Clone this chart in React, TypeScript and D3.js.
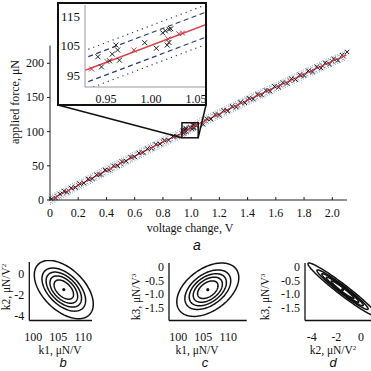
import React from 'react';
import * as d3 from 'd3';

// ---------- data ----------
const blackV = [0.01,0.04,0.07,0.10,0.12,0.15,0.18,0.21,0.24,0.27,0.30,0.33,0.36,0.39,0.42,0.45,0.48,0.51,0.54,0.57,0.60,0.63,0.66,0.69,0.72,0.75,0.78,0.81,0.84,0.87,0.90,
  0.941,0.945,0.954,0.957,0.961,0.963,0.965,0.993,1.006,1.013,1.016,1.020,1.022,1.018,1.020,
  1.085,1.11,1.14,1.17,1.20,1.23,1.26,1.29,1.32,1.35,1.38,1.41,1.44,1.47,1.50,1.53,1.56,1.59,1.62,1.65,1.68,1.71,1.74,1.77,1.80,1.83,1.86,1.89,1.92,1.95,1.98,2.01,2.04,2.07,2.105];
const blackF = [1.5,3.0,8.6,12.8,11.2,17.5,18.2,24.0,24.6,30.8,31.0,36.9,37.5,44.0,43.8,49.9,50.1,56.2,56.9,62.7,63.2,68.8,69.5,75.0,75.4,81.5,81.8,87.4,87.6,93.2,93.1,
  101.3,97.8,99.9,102.2,105.3,103.6,100.1,106.1,104.2,109.5,110.2,110.7,110.9,105.3,106.2,
  110.5,118.8,118.4,125.0,124.2,131.2,130.1,137.0,136.0,143.1,142.2,148.9,147.7,154.8,153.6,160.3,159.1,166.2,165.0,171.8,170.4,177.6,176.1,183.2,181.9,189.1,187.4,194.8,193.2,200.6,198.8,206.3,204.2,211.9,216.5];
const redV = [0.05,0.13,0.20,0.28,0.35,0.43,0.50,0.58,0.65,0.73,0.80,0.88,0.934,0.951,0.981,1.019,1.031,1.035,1.10,1.18,1.25,1.33,1.40,1.48,1.55,1.63,1.70,1.78,1.85,1.93,2.00,2.08];
const redF = [5.4,14.0,21.5,30.1,37.6,46.2,53.6,61.9,69.2,77.6,85.0,92.4,97.1,99.7,103.6,107.4,109.2,109.4,116.1,124.0,131.0,139.0,146.0,153.6,160.3,167.9,174.5,182.1,188.8,196.4,203.0,210.2];
const fitV = [0,0.2,0.4,0.6,0.8,0.93,1.06,1.2,1.4,1.6,1.8,2.0,2.1];
const fitF = [0,21.5,43,64,85,97,112.2,126,146,165,184,203,212];
const bandInner = 4.3;
const bandOuter = 6.8;

const mainXTicks = [0,0.2,0.4,0.6,0.8,1.0,1.2,1.4,1.6,1.8,2.0];
const mainYTicks = [0,50,100,150,200];
const insetXTicks = [0.95,1.00,1.05];
const insetYTicks = [95,105,115];
const zoomV = [0.935,1.05];
const zoomF = [91,113];

const contourLevels = [1,0.74,0.6,0.47,0.33];
const bCenter = [106.1,-1.45]; const bHalf = [5.9,2.8]; const bRho = -0.5;
const cCenter = [105.9,-0.83]; const cHalf = [6.2,0.98]; const cRho = 0.45;
const dCenter = [-1.5,-0.83]; const dHalf = [2.8,0.98]; const dRho = -0.97;
const bXTicks = [100,105,110]; const bYTicks = [0,-2,-4];
const cXTicks = [100,105,110]; const cYTicks = [0,-0.5,-1.0,-1.5];
const dXTicks = [-4,-2,0]; const dYTicks = [0,-0.5,-1.0,-1.5];

const SERIF = '"Liberation Serif","Times New Roman",serif';
const SANS = '"Liberation Sans",Arial,sans-serif';

function crossPath(x:number,y:number,s:number){
  return `M${x-s},${y-s}L${x+s},${y+s}M${x-s},${y+s}L${x+s},${y-s}`;
}

function ellipsePts(center:number[],half:number[],rho:number,s:number){
  const pts:[number,number][] = [];
  const n = 120;
  for(let i=0;i<n;i++){
    const t = (i/n)*Math.PI*2;
    const u = Math.cos(t), v = Math.sin(t);
    pts.push([center[0]+s*half[0]*u, center[1]+s*half[1]*(rho*u+Math.sqrt(1-rho*rho)*v)]);
  }
  return pts;
}

function Panel({x0,x1,y0,y1,xDom,yDom,center,half,rho,xTicks,yTicks,fmtY,xLabel,yLabel,yLabelX,yLabelY,tag,clipId}:any){
  const xs = d3.scaleLinear().domain(xDom).range([x0,x1]);
  const ys = d3.scaleLinear().domain(yDom).range([y1,y0]);
  const line = d3.line<[number,number]>().x(d=>xs(d[0])).y(d=>ys(d[1])).curve(d3.curveLinearClosed);
  return (
    <g>
      <clipPath id={clipId}><rect x={x0} y={y0-2} width={x1-x0+2} height={y1-y0+2}/></clipPath>
      <g clipPath={`url(#${clipId})`}>
        {contourLevels.map((s,i)=>(
          <path key={i} d={line(ellipsePts(center,half,rho,s))||''} fill="none" stroke="#111" strokeWidth={1.5}/>
        ))}
        <circle cx={xs(center[0])} cy={ys(center[1])} r={1.6} fill="#111"/>
      </g>
      <line x1={x0} x2={x0} y1={y0} y2={y1} stroke="#111" strokeWidth={1.3}/>
      <line x1={x0} x2={x1} y1={y1} y2={y1} stroke="#111" strokeWidth={1.3}/>
      {xTicks.map((t:number)=>(
        <text key={t} x={xs(t)} y={y1+20} textAnchor="middle" fontFamily={SERIF} fontSize={12} fill="#111">{t}</text>
      ))}
      {yTicks.map((t:number)=>(
        <text key={t} x={x0-5} y={ys(t)+4} textAnchor="end" fontFamily={SERIF} fontSize={12} fill="#111">{fmtY(t)}</text>
      ))}
      <text x={xLabel.x} y={y1+33} textAnchor="middle" fontFamily={SERIF} fontSize={11.5} fill="#111">
        {xLabel.main}{xLabel.sup ? <tspan fontSize={7} dy={-4}>{xLabel.sup}</tspan> : null}
      </text>
      <text transform={`translate(${yLabelX},${yLabelY}) rotate(-90)`} textAnchor="middle" fontFamily={SERIF} fontSize={11.5} fill="#111">
        {yLabel.main}{yLabel.sup ? <tspan fontSize={7} dy={-4}>{yLabel.sup}</tspan> : null}
      </text>
      <text x={tag.x} y={367} textAnchor="middle" fontFamily={SANS} fontStyle="italic" fontSize={13} fill="#111">{tag.t}</text>
    </g>
  );
}

export default function App(){
  const W = 371, H = 371;
  const xM = d3.scaleLinear().domain([0,2.1]).range([50,346.4]);
  const yM = d3.scaleLinear().domain([0,226]).range([200,45.5]);
  const iL = 85, iR = 205, iT = 4, iB = 87;
  const xI = d3.scaleLinear().domain([0.9267,1.06]).range([iL,iR]);
  const yI = d3.scaleLinear().domain([90.9,119.4]).range([iB,iT]);

  const fitPts = fitV.map((v,i)=>[v,fitF[i]] as [number,number]);
  const mkLine = (xs:any,ys:any,off:number)=>d3.line<[number,number]>().x(d=>xs(d[0])).y(d=>ys(d[1]+off))(fitPts)||'';

  const blackPts = blackV.map((v,i)=>[v,blackF[i]]);
  const redPts = redV.map((v,i)=>[v,redF[i]]);

  const bx0 = xM(zoomV[0]), bx1 = xM(zoomV[1]), by0 = yM(zoomF[1]), by1 = yM(zoomF[0]);

  return (
    <svg width={W} height={H} style={{position:'absolute',left:0,top:0,background:'#fff'}}>
      <rect width={W} height={H} fill="#fff"/>
      {[-bandOuter,bandOuter].map(o=>(
        <path key={'mo'+o} d={mkLine(xM,yM,o)} fill="none" stroke="#7d92c4" strokeWidth={0.9} strokeDasharray="1,1.5"/>
      ))}
      {[-bandInner,bandInner].map(o=>(
        <path key={'mi'+o} d={mkLine(xM,yM,o)} fill="none" stroke="#7d92c4" strokeWidth={0.8} strokeDasharray="3,2"/>
      ))}
      <path d={mkLine(xM,yM,0)} fill="none" stroke="#d9474f" strokeWidth={1.4}/>
      {blackPts.map((p,i)=>(
        <path key={'b'+i} d={crossPath(xM(p[0]),yM(p[1]),2.2)} stroke="#1e1e1e" strokeWidth={1} fill="none"/>
      ))}
      {redPts.map((p,i)=>(
        <path key={'r'+i} d={crossPath(xM(p[0]),yM(p[1]),2.2)} stroke="#b8404a" strokeWidth={1} fill="none"/>
      ))}

      <line x1={50} x2={50} y1={45.5} y2={200} stroke="#222" strokeWidth={1}/>
      <line x1={50} x2={347} y1={200} y2={200} stroke="#222" strokeWidth={1}/>
      {mainXTicks.map(t=>(
        <g key={'xt'+t}>
          <line x1={xM(t)} x2={xM(t)} y1={200} y2={197} stroke="#222" strokeWidth={1}/>
          <text x={xM(t)} y={217} textAnchor="middle" fontFamily={SERIF} fontSize={12} fill="#111">{t===0?'0':t.toFixed(1)}</text>
        </g>
      ))}
      {mainYTicks.map(t=>(
        <g key={'yt'+t}>
          <line x1={47} x2={50} y1={yM(t)} y2={yM(t)} stroke="#222" strokeWidth={1}/>
          <text x={44} y={yM(t)+4} textAnchor="end" fontFamily={SERIF} fontSize={12} fill="#111">{t}</text>
        </g>
      ))}
      <text x={190} y={232} textAnchor="middle" fontFamily={SERIF} fontSize={12} fill="#111">voltage change,  V</text>
      <text x={197} y={250} textAnchor="middle" fontFamily={SANS} fontStyle="italic" fontSize={14} fill="#111">a</text>
      <text transform="translate(19,102) rotate(-90)" textAnchor="middle" fontFamily={SERIF} fontSize={12} fill="#111">applied force,  μN</text>

      <rect x={bx0} y={by0} width={bx1-bx0} height={by1-by0} fill="none" stroke="#111" strokeWidth={1.5}/>
      <line x1={58} y1={105} x2={bx0} y2={by1} stroke="#111" strokeWidth={1.5}/>
      <line x1={206} y1={105} x2={bx1} y2={by1} stroke="#111" strokeWidth={1.5}/>

      <rect x={58} y={3} width={148} height={102} fill="#fff" stroke="#111" strokeWidth={2}/>
      <clipPath id="insetClip"><rect x={iL} y={iT} width={iR-iL} height={iB-iT}/></clipPath>
      <g clipPath="url(#insetClip)">
        {[-bandOuter,bandOuter].map(o=>(
          <path key={'io'+o} d={mkLine(xI,yI,o)} fill="none" stroke="#2a3b78" strokeWidth={1.2} strokeDasharray="1.2,4"/>
        ))}
        {[-bandInner,bandInner].map(o=>(
          <path key={'ii'+o} d={mkLine(xI,yI,o)} fill="none" stroke="#2a3b78" strokeWidth={1.2} strokeDasharray="5,3.5"/>
        ))}
        <path d={mkLine(xI,yI,0)} fill="none" stroke="#d9434a" strokeWidth={1.4}/>
        {blackPts.map((p,i)=>(
          <path key={'ib'+i} d={crossPath(xI(p[0]),yI(p[1]),2.5)} stroke="#222" strokeWidth={1} fill="none"/>
        ))}
        {redPts.map((p,i)=>(
          <path key={'ir'+i} d={crossPath(xI(p[0]),yI(p[1]),2.5)} stroke="#c0404a" strokeWidth={1} fill="none"/>
        ))}
      </g>
      <line x1={iL} x2={iL} y1={iT+1} y2={iB} stroke="#999" strokeWidth={1}/>
      <line x1={iL} x2={iR} y1={iB} y2={iB} stroke="#999" strokeWidth={1}/>
      {insetXTicks.map(t=>(
        <text key={'ixt'+t} x={xI(t)} y={102.5} textAnchor="middle" fontFamily={SERIF} fontSize={12} fill="#111">{t.toFixed(2)}</text>
      ))}
      {insetYTicks.map(t=>(
        <text key={'iyt'+t} x={80} y={yI(t)+4.5} textAnchor="end" fontFamily={SERIF} fontSize={13} fill="#111">{t}</text>
      ))}

      <Panel x0={29.3} x1={92} y0={262} y1={320.5} xDom={[99.2,111.74]} yDom={[-4.42,1.2]}
        center={bCenter} half={bHalf} rho={bRho} xTicks={bXTicks} yTicks={bYTicks} fmtY={(t:number)=>String(t)}
        xLabel={{x:60,main:'k1,  μN/V'}} yLabel={{main:'k2,  μN/V',sup:'2'}} yLabelX={10} yLabelY={287}
        tag={{x:63,t:'b'}} clipId="cb"/>
      <Panel x0={169} x1={246.7} y0={263} y1={320.5} xDom={[98.14,113.68]} yDom={[-1.96,0.15]}
        center={cCenter} half={cHalf} rho={cRho} xTicks={cXTicks} yTicks={cYTicks} fmtY={(t:number)=>t===0?'0':t.toFixed(1)}
        xLabel={{x:197,main:'k1,  μN/V'}} yLabel={{main:'k3,  μN/V',sup:'3'}} yLabelX={140} yLabelY={297}
        tag={{x:205,t:'c'}} clipId="cc"/>
      <Panel x0={305} x1={380} y0={263} y1={320.5} xDom={[-4.54,1.53]} yDom={[-1.96,0.15]}
        center={dCenter} half={dHalf} rho={dRho} xTicks={dXTicks} yTicks={dYTicks} fmtY={(t:number)=>t===0?'0':t.toFixed(1)}
        xLabel={{x:333,main:'k2,  μN/V',sup:'2'}} yLabel={{main:'k3,  μN/V',sup:'3'}} yLabelX={269} yLabelY={297}
        tag={{x:333,t:'d'}} clipId="cd"/>
    </svg>
  );
}
